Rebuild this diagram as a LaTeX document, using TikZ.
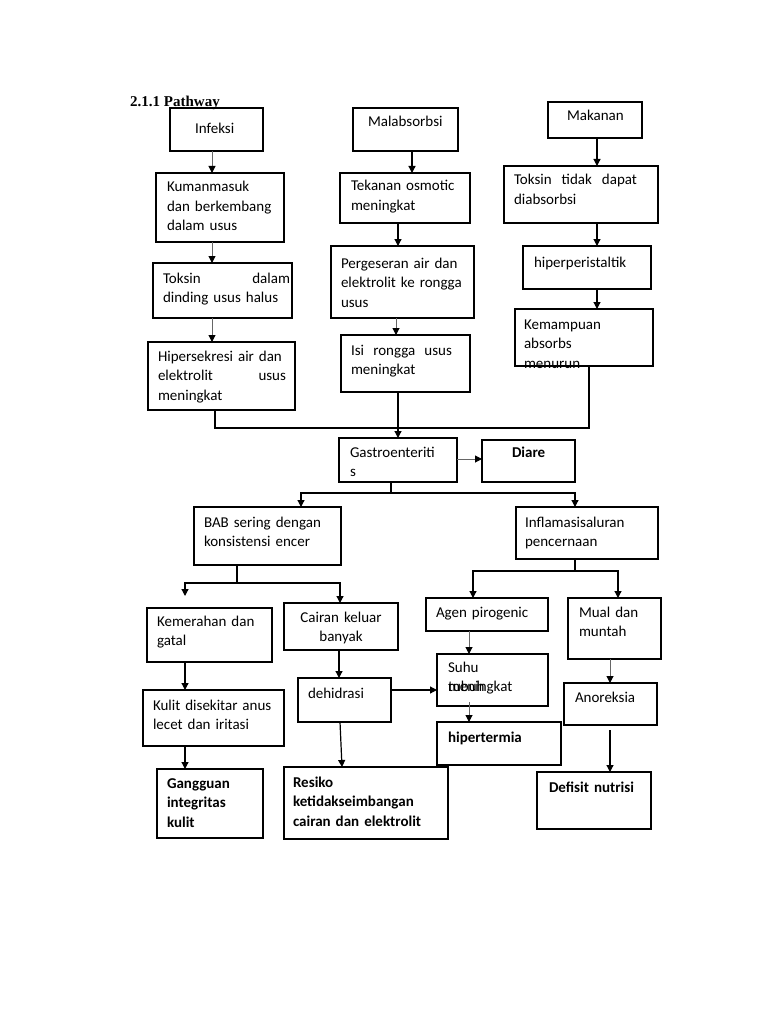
\documentclass[tikz,border=0pt]{standalone}
\usepackage{fontspec}
\setmainfont{Carlito}
\newfontfamily\titlefont{Liberation Serif}
\usetikzlibrary{arrows.meta,calc}
\newcommand\mybox[5]{\node[box,anchor=north west,minimum width={#4-#2},minimum height={#5-#3}] (#1) at (#2,#3) {};}
\newcommand\mytext[5][]{\node[txt,anchor=base west,#1] (#2) at (#3,#4) {#5};}
\begin{document}
\begin{tikzpicture}[x=1pt,y=-1pt,
  box/.style={draw=black,line width=1.2pt,inner sep=0pt,outer sep=0pt,fill=none},
  txt/.style={inner sep=0pt,outer sep=0pt,text width=160pt,align=left,font=\fontsize{15}{19.5}\selectfont},
  btxt/.style={txt,font=\fontsize{15}{19.5}\selectfont\bfseries},
  ln/.style={line width=1.2pt,draw=black},
  arr/.style={ln,-{Triangle[length=7pt,width=7pt]}},
  garr/.style={line width=1pt,draw=black!60,-{Triangle[length=7pt,width=7pt,color=black]}}]
\useasboundingbox[fill=white] (0,0) rectangle (768,1024);
% title
\node[anchor=base west,inner sep=0pt,font=\titlefont\fontsize{15}{18}\selectfont\bfseries] (title) at (130,107) {2.1.1 Pathway};
% boxes
\mybox{infeksi}{170}{108}{263}{151}
\mybox{malab}{353}{108}{458}{151}
\mybox{makanan}{548}{102}{642}{138}
\mybox{kuman}{156}{173}{284}{242}
\mybox{tekanan}{340}{173}{470}{223}
\mybox{ttidak}{504}{166}{658}{223}
\mybox{toksin}{153}{263}{292}{318}
\mybox{perges}{331}{246}{474}{318}
\mybox{hiperper}{523}{246}{651}{289}
\mybox{hiper}{148}{342}{295}{410}
\mybox{isi}{341}{335}{470}{392}
\mybox{kemamp}{515}{309}{653}{366}
\mybox{gastro}{339}{438}{457}{482}
\mybox{diare}{482}{440}{575}{482}
\mybox{bab}{194}{507}{341}{565}
\mybox{infl}{516}{507}{658}{559}
\mybox{kemerah}{147}{608}{272}{662}
\mybox{cairan}{284}{603}{398}{650}
\mybox{agen}{426}{598}{548}{631}
\mybox{mual}{568}{598}{661}{659}
\mybox{kulit}{143}{690}{284}{746}
\mybox{dehid}{298}{678}{391}{722}
\mybox{suhu}{437}{654}{548}{706}
\mybox{anor}{564}{683}{657}{725}
\mybox{hiperterm}{437}{722}{561}{765}
\mybox{ganggu}{157}{769}{263}{838}
\mybox{resiko}{284}{767}{448}{839}
\mybox{defisit}{537}{772}{651}{829}
% texts
\mytext{t-infeksi}{195}{134}{Infeksi}
\mytext{t-malab}{368}{127}{Malabsorbsi}
\mytext{t-makanan}{567}{121}{Makanan}
\mytext{t-kuman}{167}{192}{Kumanmasuk\\dan berkembang\\dalam usus}
\mytext[text width=127pt]{t-toksin}{163}{283}{Toksin\hfill dalam\\dinding usus halus}
\mytext[text width=128pt]{t-hiper}{158}{361}{Hipersekresi air dan\\elektrolit\hfill usus\\meningkat}
\mytext{t-tekanan}{351}{191}{Tekanan osmotic\\meningkat}
\mytext{t-perges}{341}{268}{Pergeseran air dan\\elektrolit ke rongga\\usus}
\mytext[text width=101pt]{t-isi}{351}{355}{Isi\hfill rongga\hfill usus\\meningkat}
\mytext[text width=123pt]{t-ttidak}{514}{185}{Toksin\hfill tidak\hfill dapat\\diabsorbsi}
\mytext{t-hiperper}{534}{267}{hiperperistaltik}
\mytext{t-kemamp}{524}{329}{Kemampuan\\absorbs\\menurun}
\mytext{t-gastro}{350}{457}{Gastroenteriti\\s}
\mytext[btxt]{t-diare}{512}{457}{Diare}
\mytext{t-bab}{204}{527}{BAB sering dengan\\konsistensi encer}
\mytext{t-infl}{525}{527}{Inflamasisaluran\\pencernaan}
\mytext{t-kemerah}{157}{626}{Kemerahan dan\\gatal}
\node[txt,text width=114pt,align=center,anchor=base] (t-cairan) at (341,622) {Cairan keluar\\banyak};
\mytext{t-agen}{436}{617}{Agen pirogenic}
\mytext{t-mual}{579}{617}{Mual dan\\muntah}
\mytext{t-kulit}{153}{710}{Kulit disekitar anus\\lecet dan iritasi}
\mytext{t-dehid}{308}{698}{dehidrasi}
\mytext{t-suhu}{448}{672}{Suhu}
\mytext{t-tubuh}{448}{691}{tubuh}
\mytext{t-mening}{448}{691}{meningkat}
\mytext{t-anor}{575}{702}{Anoreksia}
\mytext[btxt]{t-hiperterm}{448}{742}{hipertermia}
\mytext[btxt]{t-ganggu}{167}{788}{Gangguan\\integritas\\kulit}
\mytext[btxt]{t-resiko}{293}{787}{Resiko\\ketidakseimbangan\\cairan dan elektrolit}
\mytext[btxt]{t-defisit}{549}{792}{Defisit nutrisi}
% connectors, left column
\draw[garr] (infeksi.south -| 212,0) -- (kuman.north -| 212,0);
\draw[garr] (kuman.south -| 212,0) -- (toksin.north -| 212,0);
\draw[garr] (toksin.south -| 212,0) -- (hiper.north -| 212,0);
% middle column
\draw[arr] (malab.south -| 412,0) -- (tekanan.north -| 412,0);
\draw[arr] (tekanan.south -| 398,0) -- (perges.north -| 398,0);
\draw[garr] (perges.south -| 396,0) -- (isi.north -| 396,0);
% right column
\draw[arr] (makanan.south -| 597,0) -- (ttidak.north -| 597,0);
\draw[arr] (ttidak.south -| 597,0) -- (hiperper.north -| 597,0);
\draw[arr] (hiperper.south -| 597,0) -- (kemamp.north -| 597,0);
% merge into gastro
\coordinate (j1) at (398,428);
\draw[ln] (hiper.south -| 215,0) |- (j1);
\draw[ln] (kemamp.south -| 589,0) |- (j1);
\draw[arr] (isi.south -| j1) -- (gastro.north -| j1);
\draw[garr] (gastro.east |- 0,459) -- (diare.west |- 0,459);
% gastro split
\coordinate (j2) at (391,493);
\draw[ln] (gastro.south -| j2) -- (j2);
\draw[arr] (j2) -| (bab.north -| 301,0);
\draw[arr] (j2) -| (infl.north -| 575,0);
% BAB split
\coordinate (j3) at (237,583);
\coordinate (free) at (185,596);
\draw[ln] (bab.south -| j3) -- (j3);
\draw[arr] (j3) -| (free);
\draw[arr] (j3) -| (cairan.north -| 340,0);
% infl split
\coordinate (j4) at (575,571);
\draw[ln] (infl.south -| j4) -- (j4);
\draw[arr] (j4) -| (agen.north -| 473,0);
\draw[arr] (j4) -| (mual.north -| 618,0);
% lower
\draw[arr] (kemerah.south -| 185,0) -- (kulit.north -| 185,0);
\draw[arr] (cairan.south -| 339,0) -- (dehid.north -| 339,0);
\draw[garr] (agen.south -| 469,0) -- (suhu.north -| 469,0);
\draw[garr] (mual.south -| 610,0) -- (anor.north -| 610,0);
\draw[arr] (dehid.east |- 0,690) -- (suhu.west |- 0,690);
\draw[garr] (469,702) -- (hiperterm.north -| 469,0);
\draw[arr] (kulit.south -| 185,0) -- (ganggu.north -| 185,0);
\draw[arr] (dehid.south -| 340,0) -- (resiko.north -| 342,0);
\draw[arr] (610,730) -- (defisit.north -| 610,0);
\end{tikzpicture}
\end{document}
